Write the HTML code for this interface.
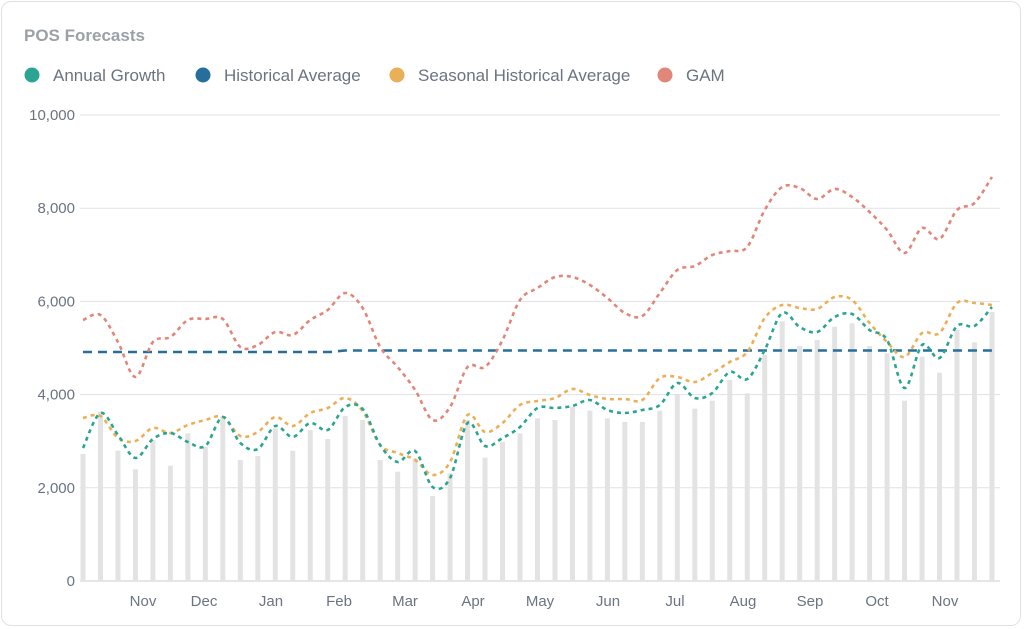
<!DOCTYPE html>
<html><head><meta charset="utf-8">
<style>
html,body{margin:0;padding:0;background:#fff;width:1024px;height:629px;overflow:hidden;font-family:"Liberation Sans",sans-serif}
.card{position:absolute;left:1px;top:1px;width:1020px;height:625px;border:1px solid #dfe2e6;border-radius:10px;box-sizing:border-box}
</style></head><body>
<div class="card"></div>
<svg id="s" width="1024" height="629" style="position:absolute;left:0;top:0" font-family="Liberation Sans, sans-serif">
<text x="24" y="41" font-size="17" font-weight="bold" fill="#9ba1a8">POS Forecasts</text>
<g font-size="17" fill="#6b7480">
<circle cx="32" cy="75" r="7.5" fill="#2ba592"/><text x="53" y="81">Annual Growth</text>
<circle cx="203" cy="75" r="7.5" fill="#266f9c"/><text x="224" y="81">Historical Average</text>
<circle cx="397" cy="75" r="7.5" fill="#eab057"/><text x="418" y="81">Seasonal Historical Average</text>
<circle cx="665" cy="75" r="7.5" fill="#e0877a"/><text x="686" y="81">GAM</text>
</g>
<g id="grid" stroke="#dfe2e6" stroke-width="1"></g>
<g id="ylab" font-size="15" fill="#6b7480" text-anchor="end"></g>
<g id="bars" fill="#e3e3e3"></g>
<g id="xlab" font-size="15" fill="#6b7480" text-anchor="middle"></g>
<g id="lines" fill="none" stroke-width="2.6"></g>
</svg>
<script>
var ns="http://www.w3.org/2000/svg";
function el(t,a,p,txt){var e=document.createElementNS(ns,t);for(var k in a)e.setAttribute(k,a[k]);if(txt)e.textContent=txt;document.getElementById(p).appendChild(e);return e;}
var Y=function(v){return 581-v*0.0466;};
var labs=["0","2,000","4,000","6,000","8,000","10,000"];
for(var i=0;i<=5;i++){var y=Y(i*2000);el("line",{x1:80,x2:1000,y1:y,y2:y,stroke:i==0?"#c9cdd3":"#dfe2e6"},"grid");el("text",{x:75,y:y+5},"ylab",labs[i]);}
var bars=[2725,3633,2796,2397,3026,2474,3169,2882,3541,2597,2682,3276,2796,3240,3047,3541,3455,2597,2346,2633,1824,2311,3455,2647,2990,3169,3491,3455,3740,3655,3491,3412,3412,3655,4013,3698,3870,4313,4028,4850,5573,5043,5172,5457,5530,5043,4886,3870,4814,4470,5386,5122,5773];
var X=function(i){return 83+17.48*i;};
bars.forEach(function(v,i){var y=Y(v);el("rect",{x:X(i)-2.5,y:y,width:5,height:581-y},"bars");});
var months=[["Nov",143],["Dec",204],["Jan",271],["Feb",339],["Mar",405],["Apr",473],["May",540],["Jun",608],["Jul",675],["Aug",743],["Sep",810],["Oct",877],["Nov",945]];
months.forEach(function(m){el("text",{x:m[1],y:606},"xlab",m[0]);});
var green=[448,413,435,458,439,433,442,446,417,443,449,426,437,423,430,407,409,445,462,451,487,478,423,446,438,427,408,408,406,400,410,413,410,405,383,398,393,372,379,350,313,327,332,317,314,330,340,388,345,358,326,326,307];
var orange=[418,416,438,441,428,433,425,420,417,436,432,417,426,413,408,398,411,445,453,460,475,462,415,432,423,405,401,398,389,395,399,399,400,378,377,382,373,362,352,318,305,308,309,297,300,323,342,357,333,333,303,303,305];
var red=[320,315,342,377,342,337,320,319,319,347,345,332,335,320,310,293,308,347,367,390,420,407,367,367,340,300,288,277,277,285,298,313,316,293,270,266,255,251,247,210,187,188,199,189,197,212,230,253,228,239,210,203,177];
function path(ys){var p=ys.map(function(y,i){return [X(i),y];});var d="M"+p[0][0]+","+p[0][1];
for(var i=0;i<p.length-1;i++){var p0=p[Math.max(0,i-1)],p1=p[i],p2=p[i+1],p3=p[Math.min(p.length-1,i+2)];
var c1x=p1[0]+(p2[0]-p0[0])/6,c1y=p1[1]+(p2[1]-p0[1])/6,c2x=p2[0]-(p3[0]-p1[0])/6,c2y=p2[1]-(p3[1]-p1[1])/6;
d+=" C"+c1x+","+c1y+" "+c2x+","+c2y+" "+p2[0]+","+p2[1];}return d;}
el("path",{d:"M83,352 L330,352 L345,350.5 L993,350.5",stroke:"#266f9c","stroke-dasharray":"9,6"},"lines");
el("path",{d:path(red),stroke:"#e0877a","stroke-dasharray":"4,4"},"lines");
el("path",{d:path(orange),stroke:"#eab057","stroke-dasharray":"4,4"},"lines");
el("path",{d:path(green),stroke:"#2ba592","stroke-dasharray":"4,4"},"lines");
</script>
</body></html>
